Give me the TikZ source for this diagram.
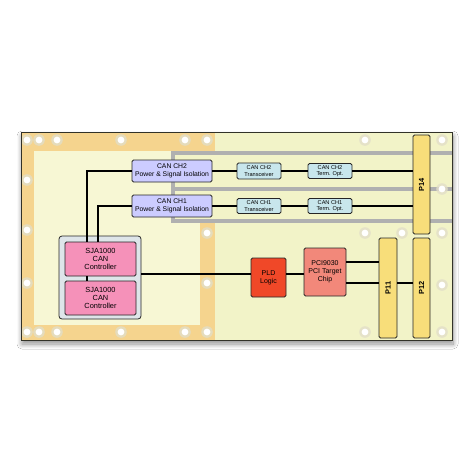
\documentclass[tikz,border=0pt]{standalone}
\usepackage{fontspec}
\setmainfont{Liberation Sans}
\usetikzlibrary{shadows.blur}
\definecolor{boardc}{RGB}{242,243,200}
\definecolor{mezzc}{RGB}{247,247,212}
\definecolor{orangec}{RGB}{245,212,142}
\definecolor{bandc}{RGB}{176,176,176}
\definecolor{psic}{RGB}{204,204,255}
\definecolor{trc}{RGB}{200,230,236}
\definecolor{sjac}{RGB}{245,145,185}
\definecolor{ctrlc}{RGB}{222,229,233}
\definecolor{pldc}{RGB}{240,72,40}
\definecolor{pcic}{RGB}{242,136,122}
\definecolor{connc}{RGB}{248,222,122}
\definecolor{edgec}{RGB}{50,50,40}
\definecolor{ringc}{RGB}{226,222,200}
\tikzset{
  blk/.style={draw=black!85, line width=0.8pt, rounded corners=1.5pt, inner sep=0pt, align=center},
  psibox/.style={blk, fill=psic, minimum width=80pt, minimum height=22pt, font=\fontsize{6.8}{7.6}\selectfont},
  trbox/.style={blk, fill=trc, minimum width=44pt, minimum height=15pt, font=\fontsize{5.6}{6.2}\selectfont},
  sjabox/.style={blk, fill=sjac, minimum width=71pt, minimum height=34pt, font=\fontsize{7.4}{8.4}\selectfont},
  ctrlbox/.style={blk, fill=ctrlc, rounded corners=3pt, minimum width=82pt, minimum height=83pt},
  pldbox/.style={blk, fill=pldc, minimum width=35pt, minimum height=39pt, font=\fontsize{7}{8}\selectfont},
  pcibox/.style={blk, fill=pcic, minimum width=42pt, minimum height=48pt, font=\fontsize{7}{8}\selectfont},
  connbox/.style={blk, fill=connc, rotate=90, minimum height=17pt, font=\bfseries\fontsize{7.4}{8}\selectfont},
  wire/.style={line width=1.5pt, black},
  grayband/.style={line width=4pt, bandc},
}
\begin{document}
\begin{tikzpicture}[x=1pt,y=-1pt]
\useasboundingbox (0,0) rectangle (474,474);
\fill[white] (0,0) rectangle (474,474);
% board
\path[fill=boardc, blur shadow={shadow xshift=1pt, shadow yshift=-4pt, shadow opacity=45, shadow blur steps=10, shadow blur radius=5pt}] (21,132) rectangle (452,340);
% mezzanine
\fill[orangec] (21,132) rectangle (215,340);
\fill[mezzc] (34,151) rectangle (200,325);
% channel region
\fill[boardc] (173,153) rectangle (452,221);
\draw[grayband] (452,153) -- (173,153) -- (173,221) -- (452,221);
\draw[grayband] (173,189) -- (452,189);
% holes
\foreach \hx/\hy in {27/140,39/140,57/140,121/140,185/140,207/140,365/140,442/140,
  27/332,39/332,57/332,121/332,185/332,207/332,365/332,442/332,
  27/180,27/230,27/283,207/233,207/283,442/189,365/233,402/233,442/233,442/285}
{
  \fill[ringc, opacity=0.8] (\hx,\hy) circle (5.8);
  \fill[white] (\hx,\hy) circle (3.4);
}
% board edge
\draw[edgec, line width=0.8pt] (21,132) rectangle (452,340);

% blocks
\node[psibox] (psi2) at (172,171) {CAN CH2\\Power \& Signal Isolation};
\node[psibox] (psi1) at (172,206) {CAN CH1\\Power \& Signal Isolation};
\node[trbox, minimum height=16pt] (tr2) at (259,171) {CAN CH2\\Transceiver};
\node[trbox] (tm2) at (330,171) {CAN CH2\\Term. Opt.};
\node[trbox] (tr1) at (259,206) {CAN CH1\\Transceiver};
\node[trbox] (tm1) at (330,206) {CAN CH1\\Term. Opt.};
\node[connbox, minimum width=99pt] (p14) at (421.5,184.5) {P14};
\node[connbox, minimum width=100pt, minimum height=18pt] (p11) at (388,288) {P11};
\node[connbox, minimum width=100pt] (p12) at (421.5,288) {P12};
\node[pldbox] (pld) at (268.5,277.5) {PLD\\Logic};
\node[pcibox] (pci) at (325,272) {PCI9030\\PCI Target\\Chip};
\node[ctrlbox] (ctrl) at (100,277.5) {};
\node[sjabox] (sja1) at (100.5,259) {SJA1000\\CAN\\Controller};
\node[sjabox] (sja2) at (100.5,298) {SJA1000\\CAN\\Controller};

% wires
\draw[wire] (psi2.west) -| ([xshift=-13.5pt]sja1.north);
\draw[wire] (psi1.west) -| ([xshift=-2.5pt]sja1.north);
\draw[wire] ([xshift=-13.5pt]sja1.south) -- ([xshift=-13.5pt]sja2.north);
\draw[wire] (psi2.east) -- (tr2.west);
\draw[wire] (tr2.east) -- (tm2.west);
\draw[wire] (tm2.east) -- (tm2.east -| p14.north);
\draw[wire] (psi1.east) -- (tr1.west);
\draw[wire] (tr1.east) -- (tm1.west);
\draw[wire] (tm1.east) -- (tm1.east -| p14.north);
\draw[wire] ([yshift=3.5pt]ctrl.east) -- ([yshift=3.5pt]ctrl.east -| pld.west);
\draw[wire] ([yshift=3.5pt]pld.east) -- ([yshift=3.5pt]pld.east -| pci.west);
\draw[wire] ([yshift=10pt]pci.east) -- ([yshift=10pt]pci.east -| p11.north);
\draw[wire] ([yshift=-11pt]pci.east) -- ([yshift=-11pt]pci.east -| p11.north);
\draw[wire] ([yshift=-11pt]pci.east -| p11.south) -- ([yshift=-11pt]pci.east -| p12.north);
\end{tikzpicture}
\end{document}
